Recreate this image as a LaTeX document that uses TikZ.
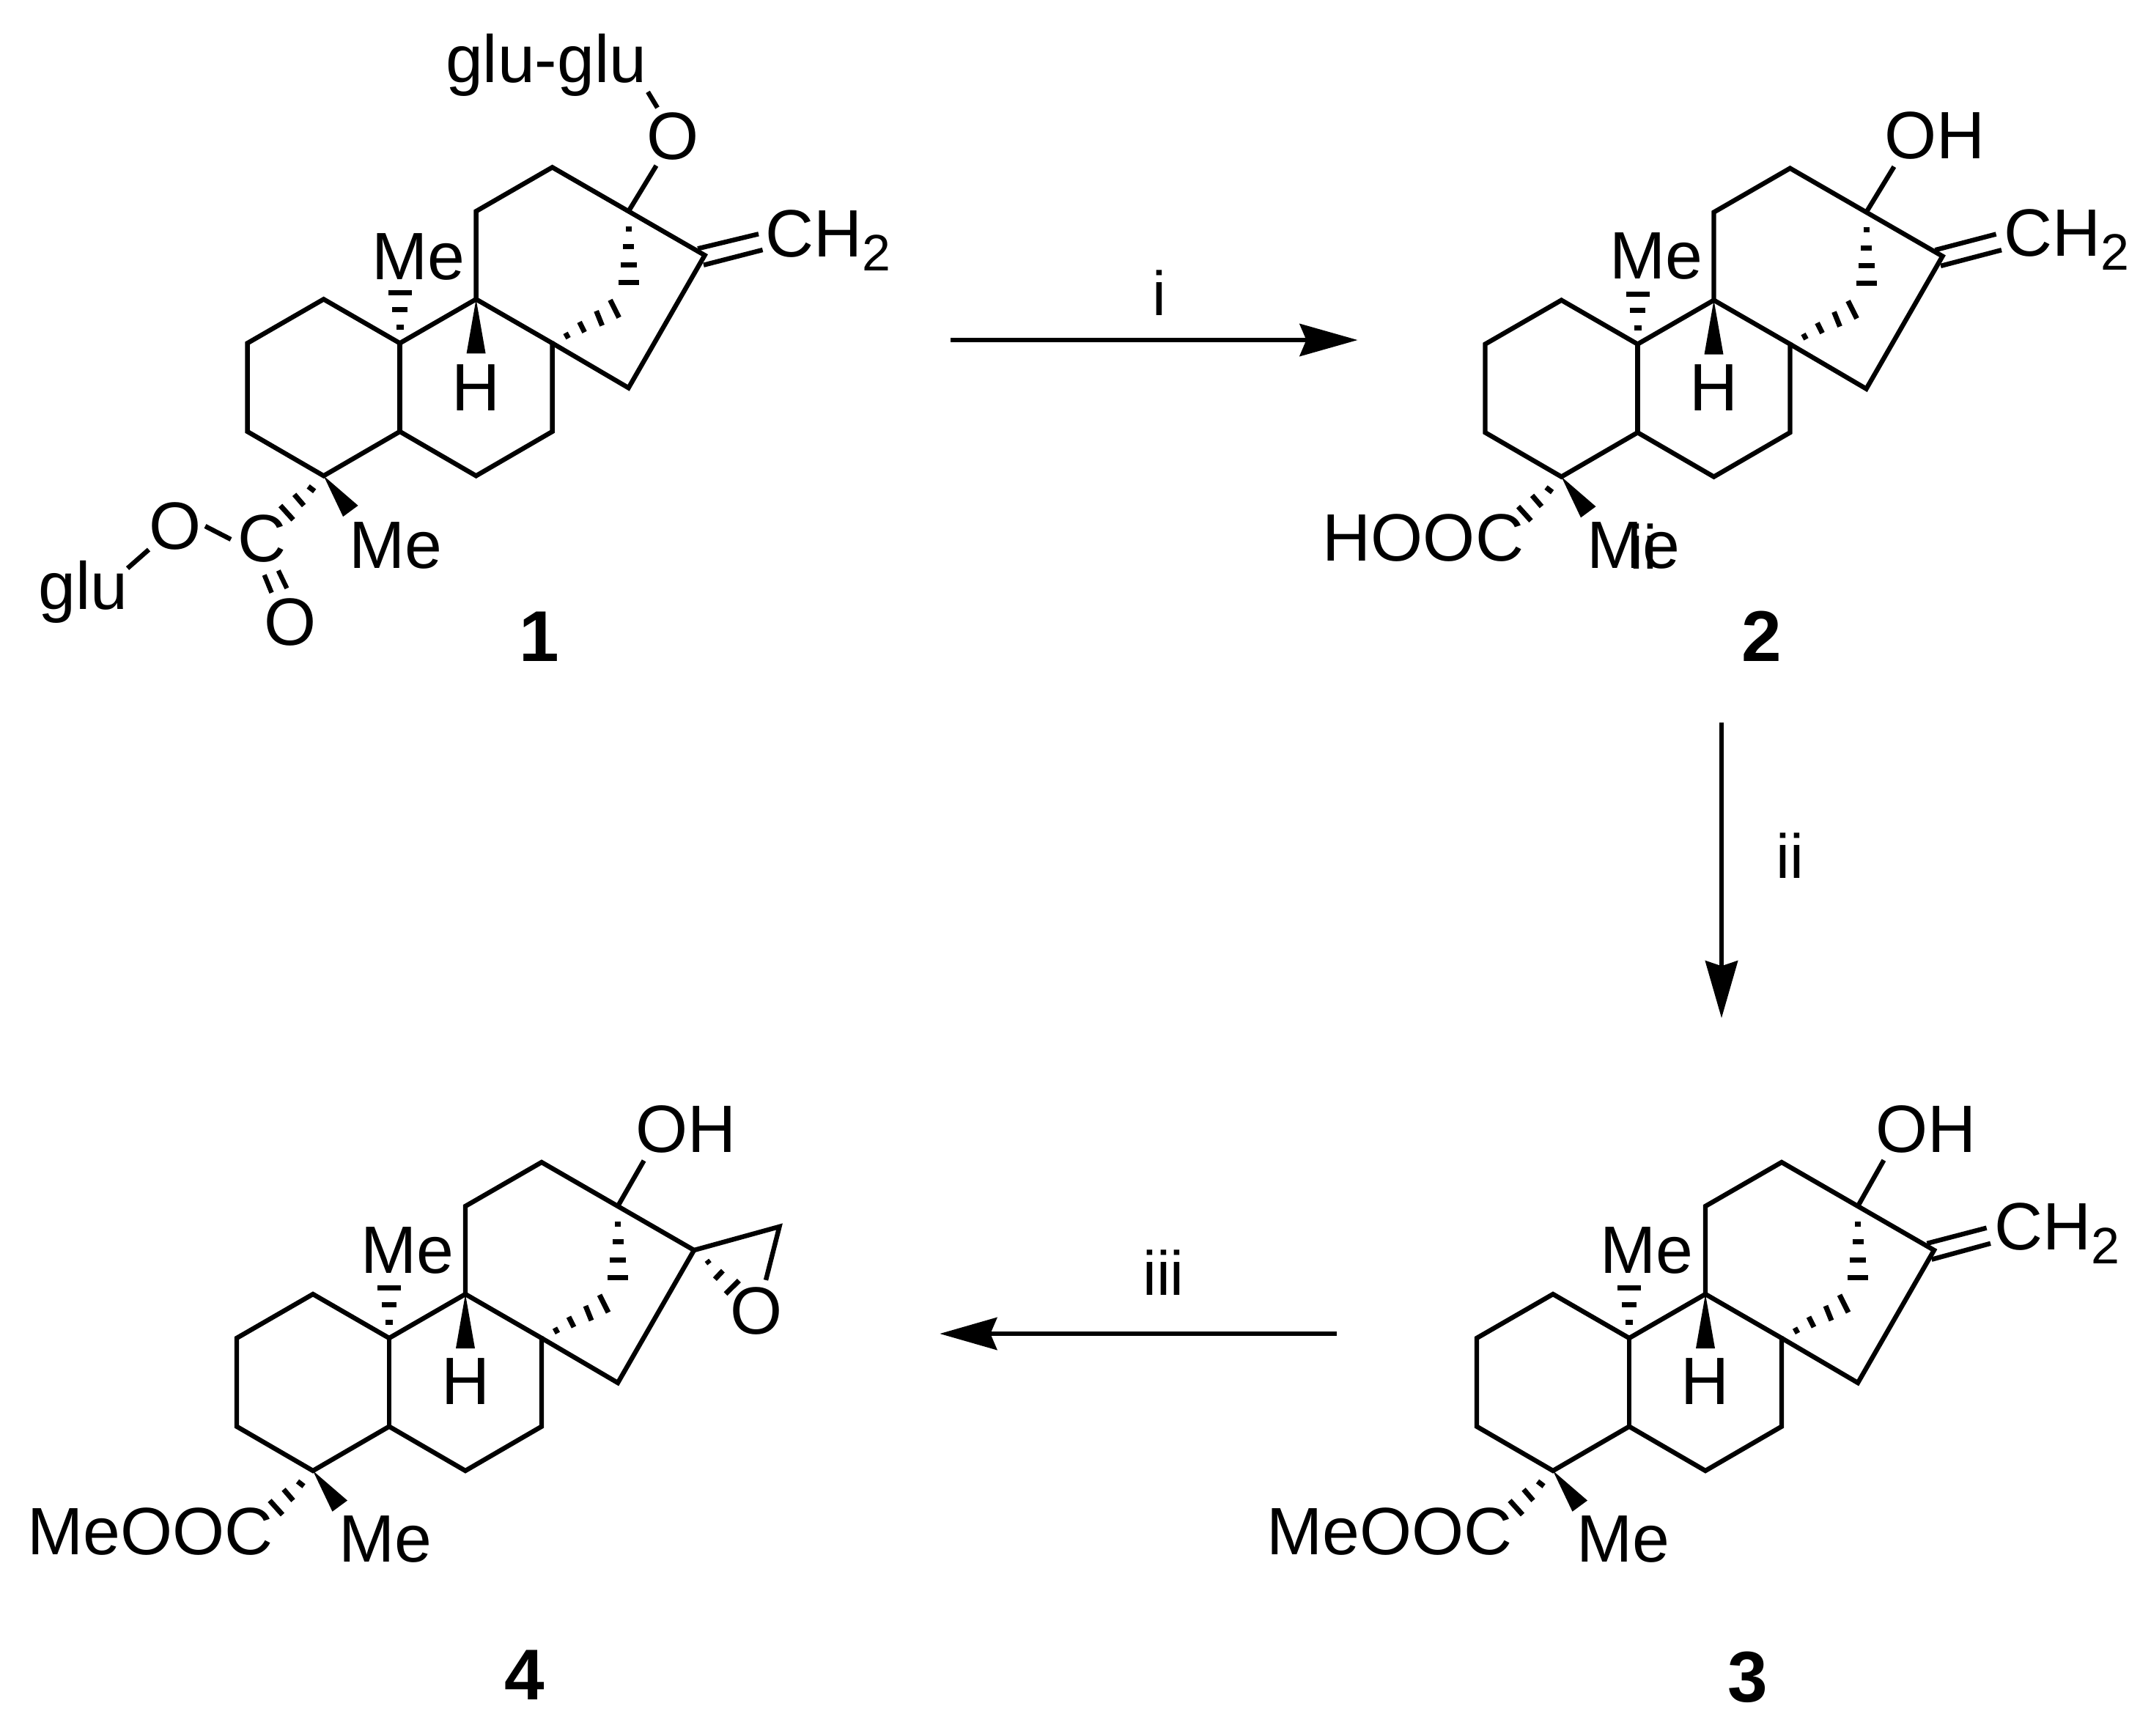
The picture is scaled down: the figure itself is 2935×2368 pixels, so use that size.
\documentclass[tikz,border=0pt]{standalone}
\usepackage{fontspec}
\setmainfont{Liberation Sans}
\usetikzlibrary{arrows.meta}
\tikzset{
  atom/.style={inner sep=0pt,outer sep=0pt,anchor=base west,font=\fontsize{26}{26}\selectfont},
  cmpd/.style={inner sep=0pt,outer sep=0pt,anchor=base,font=\fontsize{27.9}{28}\selectfont\bfseries},
  reag/.style={inner sep=0pt,outer sep=0pt,anchor=base,font=\fontsize{24.2}{25}\selectfont},
  bond/.style={line width=.064cm,line join=miter},
  hashbar/.style={line width=.07cm},
  rxn/.style={line width=.062cm},
}
\newcommand{\subtwo}{\raisebox{-.19cm}{\fontsize{19.9}{20}\selectfont 2}}
\newcommand{\ringsys}[3]{%
\begin{scope}[shift={(#2,#3)}]
  \coordinate (#1a) at (-208,0);
  \coordinate (#1b) at (-104,-60);
  \coordinate (#1c) at (0,0);
  \coordinate (#1d) at (104,-60);
  \coordinate (#1e) at (104,-180);
  \coordinate (#1f) at (208,-240);
  \coordinate (#1g) at (312,-180);
  \coordinate (#1h) at (416,-120);
  \coordinate (#1i) at (312,61);
  \coordinate (#1j) at (208,0);
  \coordinate (#1k) at (208,120.6);
  \coordinate (#1l) at (104,181);
  \coordinate (#1m) at (0,120.6);
  \coordinate (#1n) at (-104,181);
  \coordinate (#1o) at (-208,120.6);
  \draw[bond] (#1a) -- (#1b) -- (#1c) -- (#1d) -- (#1j) -- (#1k) -- (#1l) -- (#1m) -- (#1n) -- (#1o) -- cycle;
  \draw[bond] (#1c) -- (#1m);
  \draw[bond] (#1d) -- (#1e) -- (#1f) -- (#1g) -- (#1h) -- (#1i) -- (#1j);
  % hashed bond c to upper Me
  \draw[hashbar] (-5,-22) -- (5,-22);
  \draw[hashbar] (-10.4,-46) -- (10.4,-46);
  \draw[hashbar] (-16,-68.5) -- (16,-68.5);
  % hashed bridge from g
  \draw[hashbar] (308,-156) -- (316,-156);
  \draw[hashbar] (304.5,-131.5) -- (319.5,-131.5);
  \draw[hashbar] (301,-107) -- (323,-107);
  \draw[hashbar] (298,-83) -- (326,-83);
  % hashed bridge from j
  \draw[hashbar] (226,-14) -- (230,-6.7);
  \draw[hashbar] (245,-29) -- (252,-15);
  \draw[hashbar] (268,-44) -- (276,-24);
  \draw[hashbar] (287,-59) -- (299,-35);
  % solid wedge to H
  \fill (#1d) -- (91,14) -- (117,14) -- cycle;
  % solid wedge to lower Me
  \fill (#1n) -- (-57,221.6) -- (-77.5,236.7) -- cycle;
  % hashed bond n to carboxyl
  \draw[hashbar] (-125,195.5) -- (-116.4,202);
  \draw[hashbar] (-144,206.4) -- (-131,221.6);
  \draw[hashbar] (-163,221.6) -- (-145.5,241);
\end{scope}}
\begin{document}
\begin{tikzpicture}[x=.01cm,y=-.01cm]
\useasboundingbox (0,0) rectangle (2935,2368);

% ---------- compound 1
\ringsys{A}{545.6}{468.3}
\node[atom] (Aglu2) at (608,112) {glu-glu};
\node[atom] (AOt) at (882.6,217) {O};
\node[atom] (AMeu) at (507.5,381.7) {Me};
\node[atom] (ACH) at (1044,350) {CH\subtwo};
\node[atom] (AH) at (616.3,560.5) {H};
\node[atom] (AMel) at (476,775.5) {Me};
\node[atom] (AC) at (324.6,766.5) {C};
\node[atom] (AOl) at (203,749.5) {O};
\node[atom] (Aglu) at (52.7,831) {glu};
\node[atom] (AOb) at (360.6,880) {O};
\node[cmpd] (Alab) at (736,902.8) {1};
\coordinate (Ap1) at (895.5,226);
\coordinate (Ap2) at (884,125.4);
\coordinate (Ap3) at (897,147);
\draw[bond] (Ag) -- (Ap1);
\draw[bond] (Ap2) -- (Ap3);
\coordinate (Ad1) at (952,339.3);
\coordinate (Ad2) at (1035,319.3);
\coordinate (Ad3) at (960,361.7);
\coordinate (Ad4) at (1040.6,341);
\draw[bond] (Ad1) -- (Ad2);
\draw[bond] (Ad3) -- (Ad4);
\coordinate (Ac1) at (280,718);
\coordinate (Ac2) at (315,736);
\coordinate (Ac3) at (174,775.5);
\coordinate (Ac4) at (203,750);
\coordinate (Ac5) at (360.7,784.6);
\coordinate (Ac6) at (370.6,808.8);
\coordinate (Ac7) at (379.8,778.6);
\coordinate (Ac8) at (391.4,802.8);
\draw[bond] (Ac1) -- (Ac2);
\draw[bond] (Ac3) -- (Ac4);
\draw[bond] (Ac5) -- (Ac6);
\draw[bond] (Ac7) -- (Ac8);

% ---------- compound 2
\ringsys{B}{2234.5}{469.6}
\node[atom] (BOH) at (2571,216.5) {OH};
\node[atom] (BCH) at (2734,349.3) {CH\subtwo};
\node[atom] (BMeu) at (2196.8,380.8) {Me};
\node[atom] (BH) at (2305.8,560.7) {H};
\node[atom] (BCOOH) at (1804.8,765.6) {HOOC};
\node[atom] (BMel) at (2165,775.9) {Me};
\node[reag] (Bstray) at (2242.5,776.7) {ii};
\node[cmpd] (Blab) at (2403.5,902.2) {2};
\coordinate (Bp1) at (2584.4,227.4);
\draw[bond] (Bg) -- (Bp1);
\coordinate (Bd1) at (2640.4,341.2);
\coordinate (Bd2) at (2723.6,319.5);
\coordinate (Bd3) at (2648,362.9);
\coordinate (Bd4) at (2731,341.2);
\draw[bond] (Bd1) -- (Bd2);
\draw[bond] (Bd3) -- (Bd4);

% ---------- compound 3
\ringsys{C}{2223}{1826}
\node[atom] (COH) at (2559.6,1572.3) {OH};
\node[atom] (CCH) at (2721.7,1705.5) {CH\subtwo};
\node[atom] (CMeu) at (2183.3,1737) {Me};
\node[atom] (CH) at (2293.9,1916) {H};
\node[atom] (CCOO) at (1728.7,2121.6) {MeOOC};
\node[atom] (CMel) at (2151.7,2131.4) {Me};
\node[cmpd] (Clab) at (2385,2322.6) {3};
\coordinate (Cp1) at (2570.4,1583.2);
\draw[bond] (Cg) -- (Cp1);
\coordinate (Cd1) at (2629.4,1696.8);
\coordinate (Cd2) at (2710.6,1675.6);
\coordinate (Cd3) at (2635.7,1718.7);
\coordinate (Cd4) at (2716,1696.8);
\draw[bond] (Cd1) -- (Cd2);
\draw[bond] (Cd3) -- (Cd4);

% ---------- compound 4
\ringsys{D}{531}{1826}
\node[atom] (DOH) at (867,1572.3) {OH};
\node[atom] (DMeu) at (492,1737) {Me};
\node[atom] (DH) at (602.9,1916) {H};
\node[atom] (DCOO) at (37.3,2121.6) {MeOOC};
\node[atom] (DMel) at (462.7,2131.4) {Me};
\node[atom] (DOe) at (996.6,1820) {O};
\node[cmpd] (Dlab) at (716,2319.7) {4};
\coordinate (Dp1) at (878.6,1583.8);
\draw[bond] (Dg) -- (Dp1);
\coordinate (De1) at (1063.5,1673.9);
\coordinate (De2) at (1045,1746.8);
\draw[bond] (Dh) -- (De1) -- (De2);
\draw[hashbar] (964.4,1719.8) -- (968,1724.4);
\draw[hashbar] (975.4,1745.6) -- (986.4,1734);
\draw[hashbar] (990,1765.7) -- (1008.4,1747.4);

% ---------- reaction arrows
\coordinate (R1s) at (1297,464);
\coordinate (R1e) at (1852.5,464);
\draw[rxn,-{Stealth[length=.79cm,width=.44cm,inset=.09cm]}] (R1s) -- (R1e);
\node[reag] (R1l) at (1582,430.7) {i};
\coordinate (R2s) at (2349,986);
\coordinate (R2e) at (2349,1389.3);
\draw[rxn,-{Stealth[length=.78cm,width=.44cm,inset=.07cm]}] (R2s) -- (R2e);
\node[reag] (R2l) at (2442.5,1198) {ii};
\coordinate (R3s) at (1823.8,1820);
\coordinate (R3e) at (1282.3,1820);
\draw[rxn,-{Stealth[length=.78cm,width=.44cm,inset=.09cm]}] (R3s) -- (R3e);
\node[reag] (R3l) at (1587.5,1767.7) {iii};
\end{tikzpicture}
\end{document}
